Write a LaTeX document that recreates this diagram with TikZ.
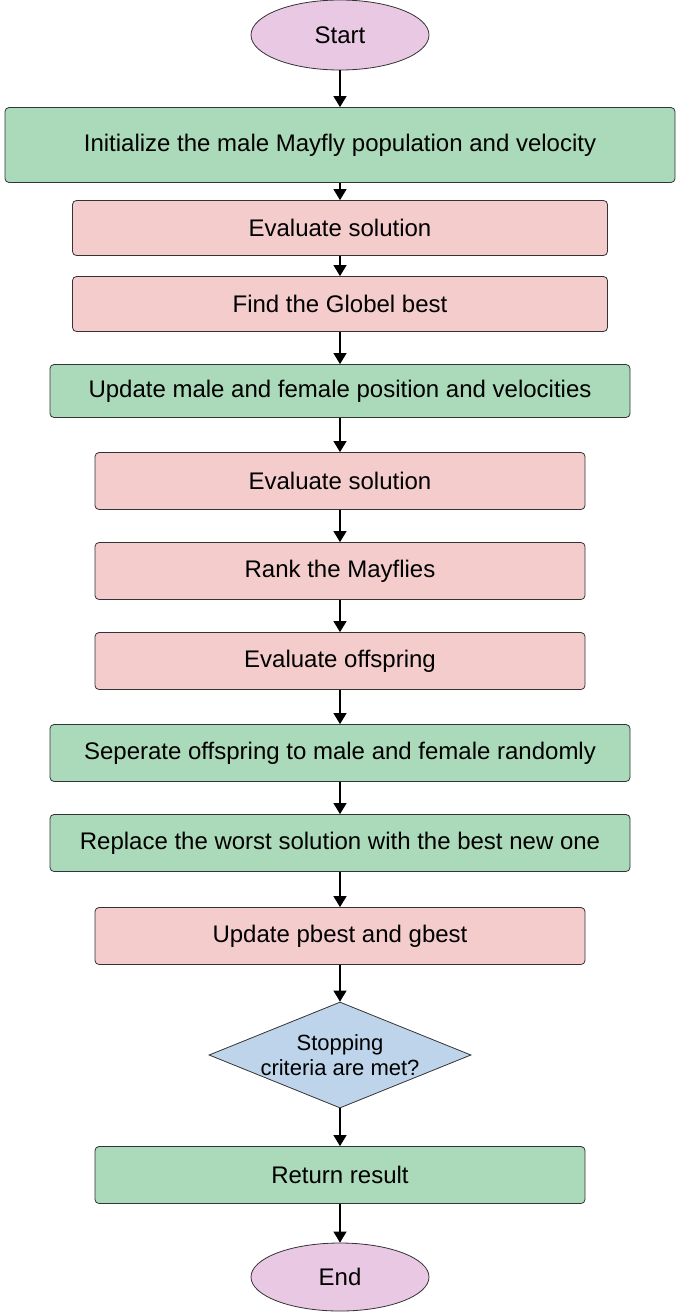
\documentclass[tikz,border=0pt]{standalone}
\usepackage{fontspec}
\setmainfont{Liberation Sans}
\usetikzlibrary{positioning,arrows.meta,shapes.geometric}
\definecolor{grn}{RGB}{170,218,185}
\definecolor{pnk}{RGB}{244,204,204}
\definecolor{prp}{RGB}{233,200,228}
\definecolor{blu}{RGB}{190,212,235}
\tikzset{
  box/.style = {rectangle, rounded corners=4pt, draw=black!80, thick,
    align=center, font=\fontsize{24}{26}\selectfont, inner sep=0pt},
  gbox/.style = {box, fill=grn},% step box, green
  pbox/.style = {box, fill=pnk},% step box, pink
  term/.style = {box, ellipse, fill=prp, minimum width=178pt, minimum height=70pt},
  cond/.style = {box, diamond, fill=blu, aspect=2.5, minimum width=262pt,
    minimum height=106pt, rounded corners=0pt, font=\fontsize{22}{25}\selectfont}
}
\begin{document}
\begin{tikzpicture}[x=1pt,y=-1pt,->,>={Triangle[length=11pt,width=13pt]},line width=1.3pt]
\useasboundingbox (0,0) rectangle (685,1315);
\node (start) [term] at (340,35) {Start};
\node (init) [gbox, minimum width=670pt, minimum height=75pt] at (340,145)
  {Initialize the male Mayfly population and velocity};
\node (eval1) [pbox, minimum width=535pt, minimum height=55pt] at (340,228) {Evaluate solution};
\node (glob) [pbox, minimum width=535pt, minimum height=55pt] at (340,304) {Find the Globel best};
\node (upd) [gbox, minimum width=580pt, minimum height=53pt] at (340,391)
  {Update male and female position and velocities};
\node (eval2) [pbox, minimum width=490pt, minimum height=57pt] at (340,481) {Evaluate solution};
\node (rank) [pbox, minimum width=490pt, minimum height=57pt] at (340,571) {Rank the Mayflies};
\node (evoff) [pbox, minimum width=490pt, minimum height=57pt] at (340,661) {Evaluate offspring};
\node (sep) [gbox, minimum width=580pt, minimum height=57pt] at (340,753)
  {Seperate offspring to male and female randomly};
\node (repl) [gbox, minimum width=580pt, minimum height=57pt] at (340,843)
  {Replace the worst solution with the best new one};
\node (best) [pbox, minimum width=490pt, minimum height=57pt] at (340,936) {Update pbest and gbest};
\node (stop) [cond] at (340,1055) {Stopping\\criteria are met?};
\node (ret) [gbox, minimum width=490pt, minimum height=57pt] at (340,1175) {Return result};
\node (end) [term, minimum height=68pt] at (340,1277) {End};
%
\foreach \a/\b in {start/init, init/eval1, eval1/glob, glob/upd, upd/eval2,
  eval2/rank, rank/evoff, evoff/sep, sep/repl, repl/best, best/stop,
  stop/ret, ret/end}
  \draw (\a) -- (\b);
\end{tikzpicture}
\end{document}
